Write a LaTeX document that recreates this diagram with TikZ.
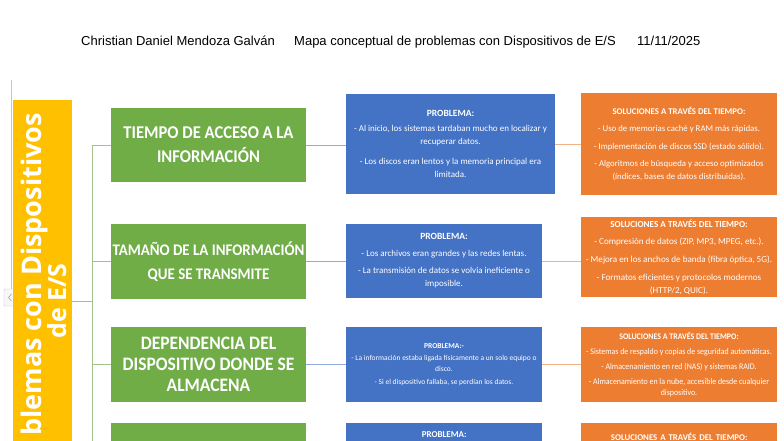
\documentclass[tikz,border=0pt]{standalone}
\usepackage{fontspec}
\setmainfont{Liberation Sans}
\newfontfamily\cali{Carlito}
\newfontfamily\calic[FakeStretch=0.92]{Carlito}
\newfontfamily\yfont{Open Sans}
\definecolor{gr}{HTML}{70AD47}
\definecolor{bl}{HTML}{4472C4}
\definecolor{orr}{HTML}{ED7D31}
\definecolor{ye}{HTML}{FFC000}
\definecolor{gline}{HTML}{A3C28B}
\definecolor{bline}{HTML}{8FAADC}
\definecolor{oline}{HTML}{F4B183}
\tikzset{
  gbox/.style={fill=gr, text=white, font=\calic\bfseries\fontsize{16.2}{24}\selectfont, align=center, inner sep=0pt, minimum width=195pt},
  bbox/.style={fill=bl, text=white, font=\cali\fontsize{9}{13}\selectfont, align=center, inner sep=0pt},
  obox/.style={fill=orr, text=white, font=\cali\fontsize{8.8}{13}\selectfont, align=center, inner sep=0pt, minimum width=196pt},
  small/.style={font=\cali\fontsize{7.5}{10.5}\selectfont},
  osmall/.style={font=\calic\fontsize{8.6}{10.5}\selectfont},
  gcon/.style={draw=gline, line width=0.8pt},
  bcon/.style={draw=bline, line width=0.8pt},
  ocon/.style={draw=oline, line width=0.8pt},
  ytext/.style={text=white, font=\yfont\bfseries\fontsize{27}{30}\selectfont, inner sep=0pt},
  hdr/.style={font=\fontsize{13}{15}\selectfont, inner sep=0pt, anchor=base west}
}
\begin{document}
\begin{tikzpicture}[x=1pt,y=-1pt]
\useasboundingbox (0,0) rectangle (784,441);
\clip (0,0) rectangle (784,441);
\fill[white] (0,0) rectangle (784,441);

% header
\node[hdr] (h1) at (81,46) {Christian Daniel Mendoza Galván};
\node[hdr] (h2) at (294,46) {Mapa conceptual de problemas con Dispositivos de E/S};
\node[hdr] (h3) at (637,46) {11/11/2025};

% window border and button
\draw[gray!45, line width=0.8pt] (11,80) -- (11,289);
\draw[gray!45, fill=gray!6, rounded corners=1pt] (4,289) rectangle (16,306);
\draw[gray!70, line width=0.6pt] (11.5,294) -- (8.5,297.5) -- (11.5,301);

% yellow root
\node[fill=ye, anchor=north west, minimum width=59pt, minimum height=360pt, inner sep=0pt] (yb) at (13,100) {};
\node[ytext, rotate=90, anchor=base east] (y1) at (41,113) {blemas con Dispositivos};
\node[ytext, rotate=90, anchor=base, font=\yfont\bfseries\fontsize{25}{28}\selectfont] (y2) at (66,301) {de E/S};

% green boxes
\node[gbox, minimum height=74pt, font=\calic\bfseries\fontsize{18}{24}\selectfont] (g1) at (208.5,145) {TIEMPO DE ACCESO A LA\\INFORMACIÓN};
\node[gbox, minimum height=75pt] (g2) at (208.5,261.5) {TAMAÑO DE LA INFORMACIÓN\\QUE SE TRANSMITE};
\node[gbox, minimum height=75pt, font=\calic\bfseries\fontsize{19}{21}\selectfont] (g3) at (208.5,364.5) {DEPENDENCIA DEL\\DISPOSITIVO DONDE SE\\ALMACENA};
\node[gbox, minimum height=75pt] (g4) at (208.5,460.5) {};

% blue boxes
\node[bbox, minimum width=209pt, minimum height=100pt] (b1) at (450.5,144) {{\bfseries\fontsize{9.5}{13}\selectfont PROBLEMA:}\\[2pt]
- Al inicio, los sistemas tardaban mucho en localizar y\\
recuperar datos.\\[7pt]
- Los discos eran lentos y la memoria principal era\\
limitada.};
\node[bbox, minimum width=196pt, minimum height=74pt] (b2) at (444,261) {{\bfseries\fontsize{9.5}{13}\selectfont PROBLEMA:}\\[4pt]
- Los archivos eran grandes y las redes lentas.\\[4pt]
- La transmisión de datos se volvia ineficiente o\\
imposible.};
\node[bbox, small, minimum width=196pt, minimum height=75pt] (b3) at (444,364.5) {{\bfseries PROBLEMA:-}\\[2pt]
- La información estaba ligada físicamente a un solo equipo o\\
disco.\\[3pt]
- Si el dispositivo fallaba, se perdían los datos.};
\node[bbox, anchor=north west, text width=196pt, text height=6pt, text depth=50pt, inner ysep=8pt] (b4) at (346,423) {\bfseries PROBLEMA:};

% orange boxes
\node[obox, minimum height=102pt] (o1) at (679,144) {{\bfseries SOLUCIONES A TRAVÉS DEL TIEMPO:}\\[4pt]
- Uso de memorias caché y RAM más rápidas.\\[5pt]
- Implementación de discos SSD (estado sólido).\\[4pt]
- Algoritmos de búsqueda y acceso optimizados\\
(índices, bases de datos distribuidas).};
\node[obox, minimum height=80pt, font=\cali\fontsize{9.1}{13}\selectfont] (o2) at (679,257) {{\bfseries SOLUCIONES A TRAVÉS DEL TIEMPO:}\\[4pt]
- Compresión de datos (ZIP, MP3, MPEG, etc.).\\[5pt]
- Mejora en los anchos de banda (fibra óptica, 5G).\\[5pt]
- Formatos eficientes y protocolos modernos\\
(HTTP/2, QUIC).};
\node[obox, osmall, minimum height=75pt] (o3) at (679,364.5) {{\bfseries SOLUCIONES A TRAVÉS DEL TIEMPO:}\\[4.5pt]
- Sistemas de respaldo y copias de seguridad automáticas.\\[4.5pt]
- Almacenamiento en red (NAS) y sistemas RAID.\\[4.5pt]
- Almacenamiento en la nube, accesible desde cualquier\\
dispositivo.};
\node[obox, anchor=north west, text width=196pt, text height=6pt, text depth=50pt, inner ysep=11pt] (o4) at (581,423) {\bfseries SOLUCIONES A TRAVÉS DEL TIEMPO:};

% connectors root -> green
\coordinate (j) at (92,301);
\draw[gcon] (yb.east |- j) -- (j);
\draw[gcon] (j) |- (g1.west);
\draw[gcon] (j) |- (g2.west);
\draw[gcon] (j) |- (g3.west);
\draw[gcon] (j) |- (g4.west);

% green -> blue
\draw[bcon] (g1.east) -- (g1.east -| b1.west);
\draw[bcon] (g2.east) -- (g2.east -| b2.west);
\draw[bcon] (g3.east) -- (g3.east -| b3.west);

% blue -> orange
\draw[ocon] (b1.east) -- (b1.east -| o1.west);
\draw[ocon] (b2.east) -- (b2.east -| o2.west);
\draw[ocon] (b3.east) -- (b3.east -| o3.west);
\end{tikzpicture}
\end{document}
